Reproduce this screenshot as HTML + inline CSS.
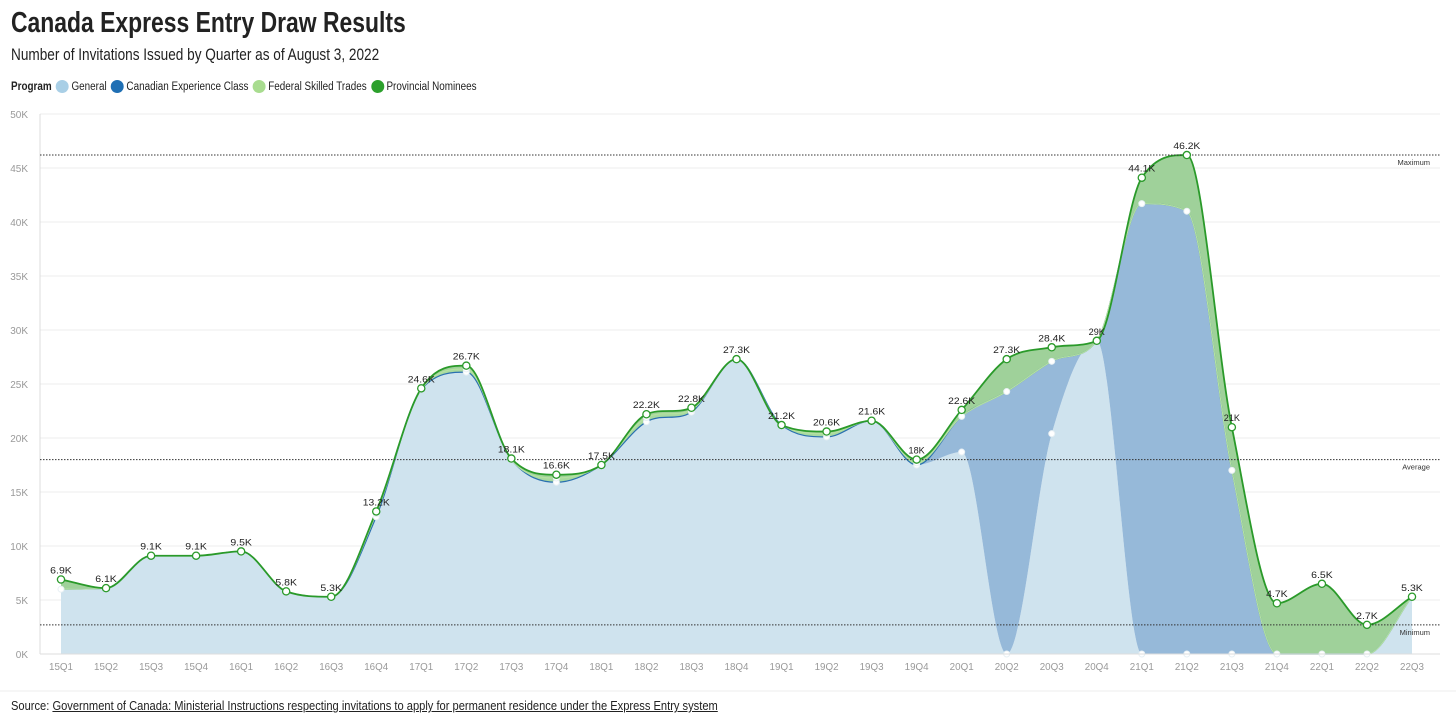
<!DOCTYPE html>
<html><head><meta charset="utf-8"><style>
body{margin:0;background:#fff;font-family:"Liberation Sans",sans-serif;color:#222;}
#wrap{position:relative;width:1456px;height:728px;overflow:hidden}
.sx{transform-origin:left top;white-space:nowrap}
h1{position:absolute;left:11px;top:7px;margin:0;font-size:29px;font-weight:bold;transform:scaleX(0.79)}
.sub{position:absolute;left:11px;top:45px;font-size:17px;transform:scaleX(0.8)}
.legend{position:absolute;left:11px;top:80px;font-size:11.5px;display:flex;align-items:center;transform:scaleX(0.86)}
.legend span.dot{display:inline-block;width:13px;height:13px;border-radius:50%;margin:0 4px 0 6px;transform:scaleX(1.16)}
.src{position:absolute;left:11px;top:699px;font-size:12.5px;transform:scaleX(0.89)}
.src u{text-decoration:underline}
</style></head><body><div id="wrap">
<h1 class="sx">Canada Express Entry Draw Results</h1>
<div class="sub sx">Number of Invitations Issued by Quarter as of August 3, 2022</div>
<div class="legend sx"><b>Program</b>
<span class="dot" style="background:#a9cfe6"></span><span>General</span>
<span class="dot" style="background:#1f6fb4"></span><span>Canadian Experience Class</span>
<span class="dot" style="background:#a8dc8f"></span><span>Federal Skilled Trades</span>
<span class="dot" style="background:#2ca02c"></span><span>Provincial Nominees</span></div>
<svg id="chart" width="1456" height="728" style="position:absolute;left:0;top:0"></svg>
<div class="src sx">Source: <u>Government of Canada: Ministerial Instructions respecting invitations to apply for permanent residence under the Express Entry system</u></div>
</div>
<script>
const quarters=["15Q1","15Q2","15Q3","15Q4","16Q1","16Q2","16Q3","16Q4","17Q1","17Q2","17Q3","17Q4","18Q1","18Q2","18Q3","18Q4","19Q1","19Q2","19Q3","19Q4","20Q1","20Q2","20Q3","20Q4","21Q1","21Q2","21Q3","21Q4","22Q1","22Q2","22Q3"];
const general=[6.0,6.1,9.1,9.1,9.5,5.8,5.3,12.7,24.5,26.1,18.0,15.9,17.5,21.5,22.4,27.3,21.2,20.1,21.6,17.5,18.7,0,20.4,29,0,0,0,0,0,0,5.3];
const cec=[0,0,0,0,0,0,0,0,0,0,0,0,0,0,0,0,0,0,0,0,3.3,24.3,6.7,0,41.7,41.0,17.0,0,0,0,0];
const fst=[0,0,0,0,0,0,0,0.3,0,0.3,0,0.4,0,0.4,0.2,0,0,0.3,0,0.2,0,0,0,0,0,0,0,0,0,0,0];
const pnp=[0.9,0,0,0,0,0,0,0.2,0.1,0.3,0.1,0.3,0,0.3,0.2,0,0,0.2,0,0.3,0.6,3.0,1.3,0,2.4,5.2,4.0,4.7,6.5,2.7,0];
const totalLabels=["6.9K","6.1K","9.1K","9.1K","9.5K","5.8K","5.3K","13.2K","24.6K","26.7K","18.1K","16.6K","17.5K","22.2K","22.8K","27.3K","21.2K","20.6K","21.6K","18K","22.6K","27.3K","28.4K","29K","44.1K","46.2K","21K","4.7K","6.5K","2.7K","5.3K"];
const yTicks=[0,5,10,15,20,25,30,35,40,45,50];
const refLines=[{v:46.2,t:"Maximum"},{v:18.0,t:"Average"},{v:2.7,t:"Minimum"}];
const X0=61,X1=1412,Y0=654,Y1=114,L=40,R=1440;
const xs=i=>X0+(X1-X0)*i/(quarters.length-1);
const ys=v=>Y0-(Y0-Y1)*v/50;
const svg=document.getElementById('chart');
const NS="http://www.w3.org/2000/svg";
function mk(t,a,p){const e=document.createElementNS(NS,t);for(const k in a)e.setAttribute(k,a[k]);(p||svg).appendChild(e);return e;}
function curve(pts){const n=pts.length;const sl=[];for(let i=0;i<n-1;i++)sl.push((pts[i+1][1]-pts[i][1])/(pts[i+1][0]-pts[i][0]));
const m=[];for(let i=0;i<n;i++){if(i===0)m.push(sl[0]);else if(i===n-1)m.push(sl[n-2]);else{const a=sl[i-1],b=sl[i];m.push(a*b<=0?0:(a+b)/2*Math.min(1,Math.min(3*Math.abs(a),3*Math.abs(b))/Math.abs((a+b)/2)));}}
let d="M"+pts[0][0]+","+pts[0][1];for(let i=0;i<n-1;i++){const h=(pts[i+1][0]-pts[i][0])/3;
d+=`C${pts[i][0]+h},${pts[i][1]+m[i]*h} ${pts[i+1][0]-h},${pts[i+1][1]-m[i+1]*h} ${pts[i+1][0]},${pts[i+1][1]}`;}return d;}
yTicks.forEach(v=>{const g=mk('line',{x1:L,x2:R,y1:ys(v),y2:ys(v),stroke:'#ececec','stroke-width':1});

const t=mk('text',{x:28,y:ys(v)+4,'text-anchor':'end','font-size':10,fill:'#999'});t.textContent=v===0?"0K":v+"K";
});
mk('line',{x1:L,x2:L,y1:Y1,y2:Y0,stroke:'#ddd'});
const series=[general,cec,fst,pnp];
const cum=[];let base=quarters.map(()=>0);
series.forEach(s=>{const top=s.map((v,i)=>base[i]+v);cum.push({lo:base,hi:top});base=top;});
const fills=['#cfe3ee','#96b9d9','#a8d9a0','#9fd19a'],lines=['#cfe3ee','#2a70b0','#b6e2a0','#2a9a2a'],names=['general','cec','fst','pnp'];
cum.forEach((c,k)=>{const hp=c.hi.map((v,i)=>[xs(i),ys(v)]),lp=c.lo.map((v,i)=>[xs(i),ys(v)]).reverse();
const d=curve(hp)+"L"+curve(lp).slice(1)+"Z";
const a=mk('path',{d:d,fill:fills[k]});
});
cum.forEach((c,k)=>{if(k===0)return;const l=mk('path',{d:curve(c.hi.map((v,i)=>[xs(i),ys(v)])),fill:'none',stroke:lines[k],'stroke-width':k===3?1.8:1.2});
});
refLines.forEach(r=>{const l=mk('line',{x1:L,x2:R,y1:ys(r.v),y2:ys(r.v),stroke:'#333','stroke-dasharray':'1.5,1.5','stroke-width':1});

const t=mk('text',{x:1430,y:ys(r.v)+10,'text-anchor':'end','font-size':7.5,fill:'#333'});t.textContent=r.t;
});
cum.forEach((c,k)=>{c.hi.forEach((v,i)=>{if(k<3&&Math.abs(v-cum[3].hi[i])<0.05)return;if(k>0&&k<3&&series[k][i]===0)return;
const d=mk('circle',{cx:xs(i),cy:ys(v),r:k===3?3.6:3,fill:'#fff',stroke:k===3?'#2a9a2a':'#e8f0f4','stroke-width':k===3?1.3:1});
});});
quarters.forEach((q,i)=>{const t=mk('text',{x:xs(i),y:ys(cum[3].hi[i])-6,'text-anchor':'middle','font-size':9.5,fill:'#222',textLength:totalLabels[i].length*5.4,lengthAdjust:'spacingAndGlyphs'});t.textContent=totalLabels[i];

const x=mk('text',{x:xs(i),y:670,'text-anchor':'middle','font-size':10.5,fill:'#999',textLength:24,lengthAdjust:'spacingAndGlyphs'});x.textContent=q;
});
mk('line',{x1:L,x2:R,y1:Y0,y2:Y0,stroke:'#ddd'});
mk('line',{x1:0,x2:1456,y1:691,y2:691,stroke:'#eee'});
</script></body></html>
